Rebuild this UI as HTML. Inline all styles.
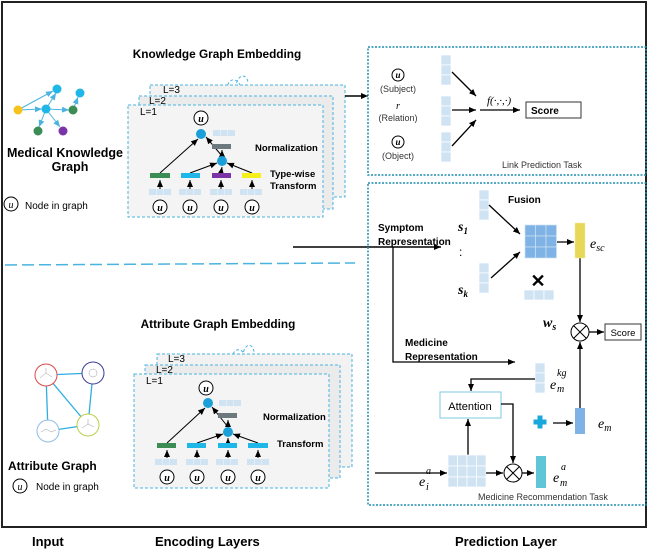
<!DOCTYPE html>
<html><head><meta charset="utf-8"><style>
body{margin:0;background:#fff}
svg{display:block;font-family:"Liberation Sans",sans-serif}
.b{font-weight:bold}
.m{font-family:"Liberation Serif",serif;font-style:italic}
</style></head><body>
<svg width="648" height="550" viewBox="0 0 648 550">
<defs>
<marker id="a" markerWidth="8" markerHeight="8" refX="7" refY="4" orient="auto" markerUnits="userSpaceOnUse"><path d="M0,1 L7,4 L0,7 z" fill="#000"/></marker>
<marker id="c" markerWidth="8" markerHeight="8" refX="7" refY="4" orient="auto" markerUnits="userSpaceOnUse"><path d="M0,1 L7,4 L0,7 z" fill="#4bb3e0"/></marker>
<g id="u"><circle r="7" fill="#fff" stroke="#000" stroke-width="1"/></g>
<g id="lb"><rect width="7" height="6" fill="#cfe3f3"/><rect x="7.5" width="7" height="6" fill="#cfe3f3"/><rect x="15" width="7" height="6" fill="#cfe3f3"/></g>
</defs>
<rect x="2" y="2" width="644" height="525" fill="none" stroke="#222" stroke-width="2"/>

<!-- KG graph -->
<g stroke="#4bb3e0" stroke-width="1" marker-end="url(#c)">
<line x1="18" y1="110" x2="53" y2="91"/><line x1="18" y1="110" x2="42" y2="109"/>
<line x1="46" y1="109" x2="56" y2="93"/><line x1="46" y1="109" x2="69" y2="110"/>
<line x1="73" y1="110" x2="78" y2="97"/><line x1="46" y1="109" x2="39" y2="127"/><line x1="46" y1="109" x2="60" y2="127"/>
</g>
<circle cx="18" cy="110" r="4.5" fill="#f7c21b"/><circle cx="57" cy="89" r="4.5" fill="#1fb7e8"/><circle cx="80" cy="93" r="4.5" fill="#1fb7e8"/>
<circle cx="46" cy="109" r="4.5" fill="#1fb7e8"/><circle cx="73" cy="110" r="4.5" fill="#3c8c55"/><circle cx="38" cy="131" r="4.5" fill="#3c8c55"/><circle cx="63" cy="131" r="4.5" fill="#7a34a8"/>
<text x="65" y="157" class="b" font-size="12.5" text-anchor="middle">Medical Knowledge</text>
<text x="70" y="171" class="b" font-size="12.5" text-anchor="middle">Graph</text>
<use href="#u" x="11" y="204"/><text x="11" y="208" class="m" font-size="10" text-anchor="middle">u</text>
<text x="25" y="209" font-size="10">Node in graph</text>

<text x="217" y="58" class="b" font-size="11.8" text-anchor="middle">Knowledge Graph Embedding</text>
<g stroke="#4bb3e0" stroke-dasharray="3,2" fill="none"><path d="M227,95 C225,80 235,75 240,85"/><path d="M236,88 C236,75 246,72 248,82"/></g>
<rect x="150" y="85" width="195" height="112" fill="#f2f2f2" stroke="#4bb3e0" stroke-dasharray="3,2"/>
<rect x="139" y="96" width="194" height="113" fill="#ebebeb" stroke="#4bb3e0" stroke-dasharray="3,2"/>
<rect x="128" y="105" width="195" height="112" fill="#f4f4f4" stroke="#4bb3e0" stroke-dasharray="3,2"/>
<text x="163" y="93" font-size="10">L=3</text><text x="149" y="104" font-size="10">L=2</text><text x="140" y="115" font-size="10">L=1</text>
<line x1="345" y1="96" x2="362" y2="96" stroke="#000" stroke-width="1.5"/>
<use href="#u" x="201" y="118"/><text x="201" y="122" class="m b" font-size="10" text-anchor="middle">u</text>
<g stroke="#000" stroke-width="1" marker-end="url(#a)">
<line x1="160" y1="173" x2="198" y2="139"/><line x1="222" y1="156" x2="206" y2="137"/><line x1="222" y1="155" x2="222" y2="150"/>
<line x1="190" y1="173" x2="217" y2="163"/><line x1="221" y1="173" x2="222" y2="167"/><line x1="252" y1="173" x2="227" y2="163"/>
<line x1="160" y1="189" x2="160" y2="180"/><line x1="190" y1="189" x2="190" y2="180"/><line x1="221" y1="189" x2="221" y2="180"/><line x1="252" y1="189" x2="252" y2="180"/>
</g>
<circle cx="201" cy="134" r="5" fill="#1a9fd8"/><circle cx="222" cy="161" r="5" fill="#1a9fd8"/>
<use href="#lb" x="213" y="130"/><rect x="212" y="144" width="19" height="5" fill="#6c7a80"/>
<rect x="150" y="173" width="20" height="5" fill="#3c8c55"/><rect x="181" y="173" width="19" height="5" fill="#1fb7e8"/><rect x="212" y="173" width="19" height="5" fill="#7a34a8"/><rect x="242" y="173" width="19" height="5" fill="#f5f01a"/>
<use href="#lb" x="149" y="189"/><use href="#lb" x="179" y="189"/><use href="#lb" x="210" y="189"/><use href="#lb" x="240" y="189"/>
<g class="m b" font-size="10" text-anchor="middle"><use href="#u" x="160" y="207"/><text x="160" y="211">u</text><use href="#u" x="190" y="207"/><text x="190" y="211">u</text><use href="#u" x="221" y="207"/><text x="221" y="211">u</text><use href="#u" x="252" y="207"/><text x="252" y="211">u</text></g>
<text x="255" y="151" class="b" font-size="9.5">Normalization</text>
<text x="270" y="177" class="b" font-size="9.5">Type-wise</text><text x="270" y="189" class="b" font-size="9.5">Transform</text>

<line x1="293" y1="247" x2="441" y2="247" stroke="#000" stroke-width="1.5" marker-end="url(#a)"/>
<line x1="5" y1="265" x2="355" y2="263" stroke="#4bb3e0" stroke-width="1.5" stroke-dasharray="12,5"/>

<!-- Link box -->
<rect x="368" y="47" width="278" height="128" fill="none" stroke="#1f8fb0" stroke-width="1.5" stroke-dasharray="2,1.5"/>
<line x1="362" y1="96" x2="368" y2="96" stroke="#000" marker-end="url(#a)"/>
<circle cx="398" cy="75" r="6" fill="#fff" stroke="#000"/><text x="398" y="78" class="m b" font-size="9" text-anchor="middle">u</text>
<text x="398" y="92" font-size="9" text-anchor="middle" fill="#333">(Subject)</text>
<text x="398" y="109" class="m" font-size="10" text-anchor="middle">r</text>
<text x="398" y="121" font-size="9" text-anchor="middle" fill="#333">(Relation)</text>
<circle cx="398" cy="142" r="6" fill="#fff" stroke="#000"/><text x="398" y="145" class="m b" font-size="9" text-anchor="middle">u</text>
<text x="398" y="159" font-size="9" text-anchor="middle" fill="#333">(Object)</text>
<g fill="#cfe3f3" stroke="#fff" stroke-width="0.7"><rect x="441" y="55" width="10" height="10"/><rect x="441" y="65" width="10" height="10"/><rect x="441" y="75" width="10" height="10"/>
<rect x="441" y="96" width="10" height="10"/><rect x="441" y="106" width="10" height="10"/><rect x="441" y="116" width="10" height="10"/>
<rect x="441" y="132" width="10" height="10"/><rect x="441" y="142" width="10" height="10"/><rect x="441" y="152" width="10" height="10"/></g>
<g stroke="#000" stroke-width="1.3" marker-end="url(#a)"><line x1="452" y1="72" x2="476" y2="96"/><line x1="452" y1="110" x2="476" y2="110"/><line x1="452" y1="146" x2="476" y2="120"/><line x1="480" y1="110" x2="520" y2="110"/></g>
<text x="487" y="104" class="m" font-size="11">f(·,·,·)</text>
<rect x="526" y="102" width="55" height="16" fill="#fff" stroke="#333"/><text x="531" y="114" class="b" font-size="10">Score</text>
<text x="502" y="168" font-size="9" fill="#333">Link Prediction Task</text>

<!-- Rec box -->
<rect x="368" y="183" width="278" height="322" fill="none" stroke="#1f8fb0" stroke-width="1.5" stroke-dasharray="2,1.5"/>
<text x="508" y="203" class="b" font-size="10">Fusion</text>
<text x="378" y="231" class="b" font-size="10">Symptom</text><text x="378" y="245" class="b" font-size="10">Representation</text>
<polyline points="393,247 393,362 515,362" fill="none" stroke="#000" stroke-width="1.3" marker-end="url(#a)"/>
<g fill="#cfe3f3" stroke="#fff" stroke-width="0.7"><rect x="479" y="190" width="10" height="10"/><rect x="479" y="200" width="10" height="10"/><rect x="479" y="210" width="10" height="10"/>
<rect x="479" y="263" width="10" height="10"/><rect x="479" y="273" width="10" height="10"/><rect x="479" y="283" width="10" height="10"/>
<rect x="524" y="290" width="10" height="10"/><rect x="534" y="290" width="10" height="10"/><rect x="544" y="290" width="10" height="10"/></g>
<text x="458" y="231" class="m b" font-size="14">s<tspan font-size="9" dy="3">1</tspan></text>
<text x="458" y="294" class="m b" font-size="14">s<tspan font-size="9" dy="3">k</tspan></text>
<text x="459" y="256" font-size="12">:</text>
<g stroke="#000" stroke-width="1.3" marker-end="url(#a)"><line x1="489" y1="205" x2="520" y2="234"/><line x1="491" y1="278" x2="520" y2="252"/><line x1="557" y1="242" x2="574" y2="242"/><line x1="580" y1="258" x2="580" y2="322"/><line x1="580" y1="408" x2="580" y2="342"/><line x1="588" y1="332" x2="604" y2="332"/></g>
<g fill="#7fb2e5" stroke="#cfe3f3" stroke-width="0.7"><rect x="525" y="225" width="10.5" height="11"/><rect x="535.5" y="225" width="10.5" height="11"/><rect x="546" y="225" width="10.5" height="11"/><rect x="525" y="236" width="10.5" height="11"/><rect x="535.5" y="236" width="10.5" height="11"/><rect x="546" y="236" width="10.5" height="11"/><rect x="525" y="247" width="10.5" height="11"/><rect x="535.5" y="247" width="10.5" height="11"/><rect x="546" y="247" width="10.5" height="11"/></g>
<rect x="575" y="223" width="10" height="35" fill="#e8d85a" stroke="#f5ec99" stroke-width="0.5"/>
<text x="590" y="248" class="m" font-size="14">e<tspan font-size="10" dy="3">sc</tspan></text>
<text x="538" y="287" font-size="18" class="b" text-anchor="middle">✕</text>
<text x="543" y="327" class="m b" font-size="14">w<tspan font-size="10" dy="3">s</tspan></text>
<g fill="#fff" stroke="#000"><circle cx="580" cy="332" r="9"/><line x1="573.6" y1="325.6" x2="586.4" y2="338.4"/><line x1="586.4" y1="325.6" x2="573.6" y2="338.4"/></g>
<rect x="605" y="324" width="36" height="16" fill="#fff" stroke="#333"/><text x="623" y="336" font-size="9.5" text-anchor="middle">Score</text>
<text x="405" y="346" class="b" font-size="10">Medicine</text><text x="405" y="360" class="b" font-size="10">Representation</text>
<g fill="#cfe3f3" stroke="#fff" stroke-width="0.7"><rect x="535" y="363" width="10" height="10"/><rect x="535" y="373" width="10" height="10"/><rect x="535" y="383" width="10" height="10"/></g>
<text x="550" y="389" class="m" font-size="14">e</text><text x="557" y="392" class="m" font-size="10">m</text><text x="557" y="376" class="m" font-size="10">kg</text>
<polyline points="535,379 471,379 471,391" fill="none" stroke="#000" stroke-width="1.3" marker-end="url(#a)"/>
<rect x="440" y="392" width="61" height="26" fill="#fff" stroke="#7ec8e3"/><text x="470" y="410" font-size="11" text-anchor="middle">Attention</text>
<polyline points="501,404 513,404 513,463" fill="none" stroke="#000" stroke-width="1.3" marker-end="url(#a)"/>
<line x1="468" y1="455" x2="468" y2="419" stroke="#000" stroke-width="1.3" marker-end="url(#a)"/>
<path d="M534,420h4v-4h4v4h4v4h-4v4h-4v-4h-4z" fill="#1aa7de" stroke="#1aa7de" stroke-width="1"/>
<line x1="553" y1="423" x2="573" y2="423" stroke="#000" stroke-width="1.3" marker-end="url(#a)"/>
<rect x="575" y="408" width="10" height="26" fill="#7fb2e5"/>
<text x="598" y="428" class="m" font-size="14">e<tspan font-size="10" dy="3">m</tspan></text>
<line x1="375" y1="473" x2="447" y2="473" stroke="#000" stroke-width="1.3" marker-end="url(#a)"/>
<g fill="#cfe3f3" stroke="#fff" stroke-width="0.7"><rect x="448" y="455" width="9.5" height="11"/><rect x="457.5" y="455" width="9.5" height="11"/><rect x="467" y="455" width="9.5" height="11"/><rect x="476.5" y="455" width="9.5" height="11"/><rect x="448" y="466" width="9.5" height="11"/><rect x="457.5" y="466" width="9.5" height="11"/><rect x="467" y="466" width="9.5" height="11"/><rect x="476.5" y="466" width="9.5" height="11"/><rect x="448" y="477" width="9.5" height="10"/><rect x="457.5" y="477" width="9.5" height="10"/><rect x="467" y="477" width="9.5" height="10"/><rect x="476.5" y="477" width="9.5" height="10"/></g>
<g stroke="#000" stroke-width="1.3" marker-end="url(#a)"><line x1="486" y1="473" x2="503" y2="473"/><line x1="522" y1="473" x2="534" y2="473"/></g>
<g fill="#fff" stroke="#000"><circle cx="513" cy="473" r="9"/><line x1="506.6" y1="466.6" x2="519.4" y2="479.4"/><line x1="519.4" y1="466.6" x2="506.6" y2="479.4"/></g>
<rect x="536" y="456" width="10" height="32" fill="#5fc6d8"/>
<text x="553" y="482" class="m" font-size="14">e</text><text x="560" y="486" class="m" font-size="10">m</text><text x="561" y="470" class="m" font-size="10">a</text>
<text x="419" y="486" class="m" font-size="14">e</text><text x="426" y="490" class="m" font-size="10">i</text><text x="426" y="474" class="m" font-size="10">a</text>
<text x="478" y="500" font-size="9" fill="#333">Medicine Recommendation Task</text>

<!-- Attribute -->
<g stroke="#2eaee0" stroke-width="1.3"><line x1="46" y1="375" x2="93" y2="373"/><line x1="46" y1="375" x2="48" y2="431"/><line x1="46" y1="375" x2="88" y2="425"/><line x1="93" y1="373" x2="88" y2="425"/><line x1="48" y1="431" x2="88" y2="425"/></g>
<circle cx="46" cy="375" r="11" fill="#fff" stroke="#e04848"/><circle cx="93" cy="373" r="11" fill="#fff" stroke="#3a3d94"/><circle cx="88" cy="425" r="11" fill="#fff" stroke="#b8cf4a"/><circle cx="48" cy="431" r="11" fill="#fff" stroke="#8fbde8"/>
<g stroke="#999" stroke-width="0.5" fill="none"><path d="M40,378 l6,-5 l6,4 M46,373 v-5"/><circle cx="93" cy="373" r="4"/><path d="M82,428 l6,-4 l6,3 M88,424 v-5"/><path d="M41,432 l5,-3 l5,3 l5,-2"/></g>
<text x="8" y="470" class="b" font-size="12">Attribute Graph</text>
<use href="#u" x="20" y="486"/><text x="20" y="490" class="m" font-size="10" text-anchor="middle">u</text>
<text x="36" y="490" font-size="10">Node in graph</text>

<text x="218" y="328" class="b" font-size="11.8" text-anchor="middle">Attribute Graph Embedding</text>
<g stroke="#4bb3e0" stroke-dasharray="3,2" fill="none"><path d="M232,364 C230,350 240,345 245,355"/><path d="M243,357 C243,343 253,342 254,352"/></g>
<rect x="157" y="354" width="195" height="113" fill="#f2f2f2" stroke="#4bb3e0" stroke-dasharray="3,2"/>
<rect x="145" y="365" width="195" height="113" fill="#ebebeb" stroke="#4bb3e0" stroke-dasharray="3,2"/>
<rect x="134" y="374" width="195" height="114" fill="#f4f4f4" stroke="#4bb3e0" stroke-dasharray="3,2"/>
<text x="168" y="362" font-size="10">L=3</text><text x="156" y="373" font-size="10">L=2</text><text x="146" y="384" font-size="10">L=1</text>
<use href="#u" x="206" y="388"/><text x="206" y="392" class="m b" font-size="10" text-anchor="middle">u</text>
<g stroke="#000" stroke-width="1" marker-end="url(#a)">
<line x1="167" y1="443" x2="205" y2="408"/><line x1="228" y1="427" x2="212" y2="407"/><line x1="228" y1="426" x2="228" y2="420"/>
<line x1="197" y1="443" x2="223" y2="434"/><line x1="228" y1="443" x2="228" y2="438"/><line x1="258" y1="443" x2="233" y2="434"/>
<line x1="167" y1="458" x2="167" y2="450"/><line x1="197" y1="458" x2="197" y2="450"/><line x1="228" y1="458" x2="228" y2="450"/><line x1="258" y1="458" x2="258" y2="450"/>
</g>
<circle cx="208" cy="403" r="5" fill="#1a9fd8"/><circle cx="228" cy="432" r="5" fill="#1a9fd8"/>
<use href="#lb" x="219" y="400"/><rect x="218" y="413" width="19" height="5" fill="#6c7a80"/>
<rect x="157" y="443" width="19" height="5" fill="#3c8c55"/><rect x="187" y="443" width="19" height="5" fill="#1fb7e8"/><rect x="218" y="443" width="19" height="5" fill="#1fb7e8"/><rect x="248" y="443" width="20" height="5" fill="#1fb7e8"/>
<use href="#lb" x="155" y="459"/><use href="#lb" x="186" y="459"/><use href="#lb" x="216" y="459"/><use href="#lb" x="247" y="459"/>
<g class="m b" font-size="10" text-anchor="middle"><use href="#u" x="167" y="477"/><text x="167" y="481">u</text><use href="#u" x="197" y="477"/><text x="197" y="481">u</text><use href="#u" x="228" y="477"/><text x="228" y="481">u</text><use href="#u" x="258" y="477"/><text x="258" y="481">u</text></g>
<text x="263" y="420" class="b" font-size="9.5">Normalization</text>
<text x="277" y="447" class="b" font-size="9.5">Transform</text>

<text x="32" y="546" class="b" font-size="13">Input</text>
<text x="155" y="546" class="b" font-size="13">Encoding Layers</text>
<text x="455" y="546" class="b" font-size="13">Prediction Layer</text>
</svg>
</body></html>
